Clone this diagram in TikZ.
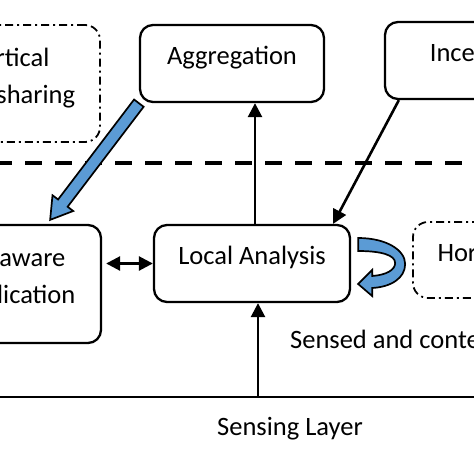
\documentclass[tikz,border=0pt]{standalone}
\usepackage{fontspec}
\setmainfont{Carlito}
\usetikzlibrary{arrows.meta, positioning, calc}
\definecolor{cblue}{HTML}{5B9BD5}
\tikzset{
  every picture/.style={font=\fontsize{26.5}{37}\selectfont, line width=2.3pt},
  box/.style={draw=black, rounded corners=13pt, align=center, inner sep=0pt, text depth=16pt, minimum width=#1},
  box/.default=184pt,
  dbox/.style={box=#1, rounded corners=15pt, line width=1.8pt, dash pattern=on 8pt off 4pt on 2pt off 4pt},
  dbox/.default=182pt,
  arrow/.style={-{Triangle[length=14pt, width=14pt]}, draw=black, line width=2.6pt},
  twoway/.style={arrow, {Triangle[length=14pt, width=14pt]}-{Triangle[length=14pt, width=14pt]}},
  bigarrow/.style={draw=black, fill=cblue, line width=1.7pt, line join=miter},
  layer/.style={draw=black, line width=4.5pt, dash pattern=on 17pt off 13pt},
  note/.style={inner sep=0pt},
}

\begin{document}
\begin{tikzpicture}[x=1pt, y=-1pt]
  \useasboundingbox (0,0) rectangle (474,474);
  \clip (0,0) rectangle (474,474);
  % upper layer
  \node[dbox, minimum height=117pt] (vert) at (9,83.5) {Vertical\\data sharing};
  \node[box, minimum height=77pt] (agg) at (232,63.5) {Aggregation};
  \node[box=188pt, minimum height=77pt] (inc) at (479,60.5) {Incentive};
  \draw[layer] (-5,163) -- (480,163);
  % lower layer
  \node[box=218pt, minimum height=118pt, align=right] (ctx) at (-8,284) {Context-aware\hspace*{10pt}\\application};
  \node[box=196pt, minimum height=77pt] (la) at (252,263.5) {Local Analysis};
  \node[dbox=298pt, minimum height=76pt] (hor) at (562,260) {Horizontal data sharing};
  \node[note, anchor=west] (data) at (289,339) {Sensed and contextual data};
  % sensing layer
  \draw[line width=2.6pt] (-5,397) -- (480,397);
  \coordinate (sl) at (258,397);
  \node[note] (sense) at (290,428.5) {Sensing Layer};
  % connectors
  \draw[arrow] (sl) -- (sl |- la.south);
  \draw[arrow] ([xshift=3pt]la.north) -- ([xshift=3pt]la.north |- agg.south);
  \draw[arrow] ([xshift=15pt]inc.south west) -- ([xshift=-18pt]la.north east);
  \draw[twoway] ([xshift=4pt]ctx.east |- la.west) -- (la.west);
  % block arrow aggregation -> application
  \coordinate (t) at (agg.south west);
  \coordinate (h) at ([shift={(-52,-4)}]ctx.north east);
  \coordinate (hb) at ($(h)!21pt!(t)$);
  \draw[bigarrow] ($(t)!6pt!90:(h)$) -- ($(hb)!6pt!-90:(t)$) -- ($(hb)!13pt!-90:(t)$) -- (h)
    -- ($(hb)!13pt!90:(t)$) -- ($(hb)!6pt!90:(t)$) -- ($(t)!6pt!-90:(h)$) -- cycle;
  % loop back into local analysis
  \begin{scope}[shift={(la.east)}]
    \draw[bigarrow] (7,-25.5) .. controls (35,-25.5) and (54,-13.5) .. (54,0.5)
      .. controls (54,14.5) and (40,23.5) .. (21,24.5) -- (21,32.5) -- (7,20.5) -- (21,6.5) -- (21,12.5)
      .. controls (35,11.5) and (44,6.5) .. (44,-0.5)
      .. controls (44,-8.5) and (30,-12.5) .. (7,-12.5) -- cycle;
  \end{scope}
\end{tikzpicture}
\end{document}
